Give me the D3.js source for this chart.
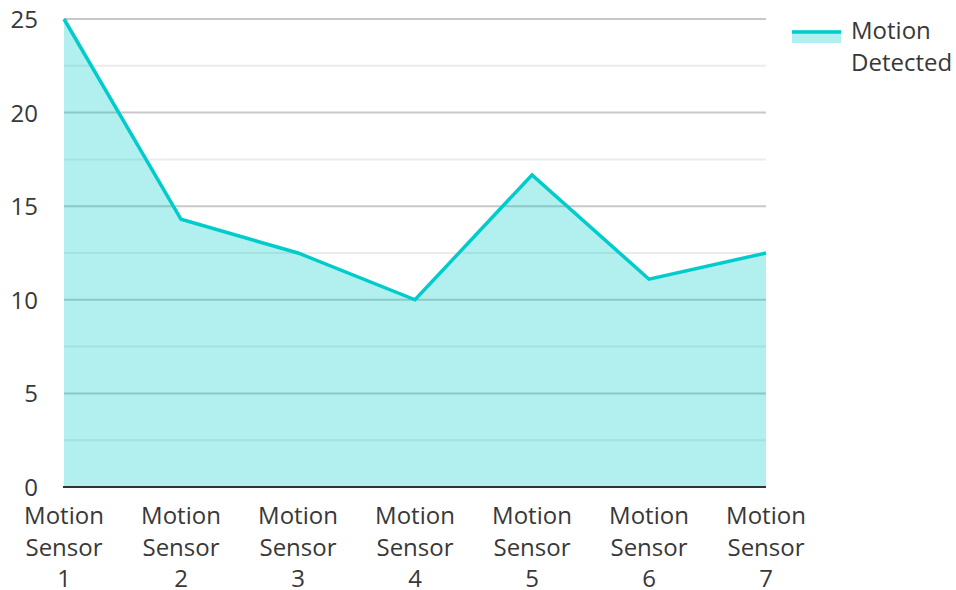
<!DOCTYPE html>
<html>
<head>
<meta charset="utf-8">
<script src="https://cdn.jsdelivr.net/npm/d3@7"></script>
<style>
  body { margin: 0; background: #fff; }
  svg text { font-family: 'Open Sans', sans-serif; fill: #383838; }
</style>
</head>
<body>
<svg id="chart" width="956" height="590"></svg>
<script>
const categories = ["Motion Sensor 1", "Motion Sensor 2", "Motion Sensor 3", "Motion Sensor 4",
                    "Motion Sensor 5", "Motion Sensor 6", "Motion Sensor 7"];
const motionDetected = [25, 14.3, 12.5, 10, 16.67, 11.1, 12.5];
const yTicks = [0, 5, 10, 15, 20, 25];
const seriesName = ["Motion", "Detected"];

const svg = d3.select("#chart");
const margin = { left: 64, right: 190, top: 19, bottom: 103 };
const W = 956, H = 590;

const x = d3.scalePoint().domain(categories).range([margin.left, W - margin.right]);
const y = d3.scaleLinear().domain([0, 25]).range([H - margin.bottom, margin.top]);

// grid lines
const grid = svg.append("g");
d3.range(2.5, 25.01, 2.5).forEach(v => {
  const major = Math.abs(v % 5) < 1e-6;
  grid.append("line")
    .attr("x1", margin.left).attr("x2", W - margin.right)
    .attr("y1", y(v)).attr("y2", y(v))
    .attr("stroke", major ? "#c8c8c8" : "#ebebeb")
    .attr("stroke-width", 2);
});

// area
const area = d3.area()
  .x((d, i) => x(categories[i]))
  .y0(y(0))
  .y1(d => y(d));
svg.append("path")
  .datum(motionDetected)
  .attr("d", area)
  .attr("fill", "rgba(0,204,204,0.3)");

// line
const line = d3.line()
  .x((d, i) => x(categories[i]))
  .y(d => y(d));
svg.append("path")
  .datum(motionDetected)
  .attr("d", line)
  .attr("fill", "none")
  .attr("stroke", "#00cccc")
  .attr("stroke-width", 3.5)
  .attr("stroke-linejoin", "miter");

// x axis line
svg.append("line")
  .attr("x1", margin.left - 1).attr("x2", W - margin.right)
  .attr("y1", y(0)).attr("y2", y(0))
  .attr("stroke", "#333").attr("stroke-width", 2);

// y labels
svg.append("g").selectAll("text")
  .data(yTicks).join("text")
  .attr("x", 38).attr("y", d => y(d) + 9)
  .attr("text-anchor", "end")
  .attr("font-size", 24)
  .text(d => d);

// x labels
const xl = svg.append("g").selectAll("text")
  .data(categories).join("text")
  .attr("text-anchor", "middle")
  .attr("font-size", 24)
  .attr("x", d => x(d))
  .attr("y", 524);
xl.each(function(d) {
  const parts = ["Motion", "Sensor", d.split(" ")[2]];
  const t = d3.select(this);
  parts.forEach((p, i) => {
    t.append("tspan").attr("x", x(d)).attr("dy", i === 0 ? 0 : 31.5).text(p);
  });
});

// legend
const lg = svg.append("g");
lg.append("rect").attr("x", 792).attr("y", 30).attr("width", 49).attr("height", 13)
  .attr("fill", "rgba(0,204,204,0.3)");
lg.append("line").attr("x1", 792).attr("x2", 841).attr("y1", 32).attr("y2", 32)
  .attr("stroke", "#00cccc").attr("stroke-width", 3.5);
lg.append("text").attr("x", 851).attr("y", 39).attr("font-size", 24)
  .selectAll("tspan").data(seriesName).join("tspan")
  .attr("x", 851).attr("dy", (d, i) => i === 0 ? 0 : 32).text(d => d);
</script>
</body>
</html>
